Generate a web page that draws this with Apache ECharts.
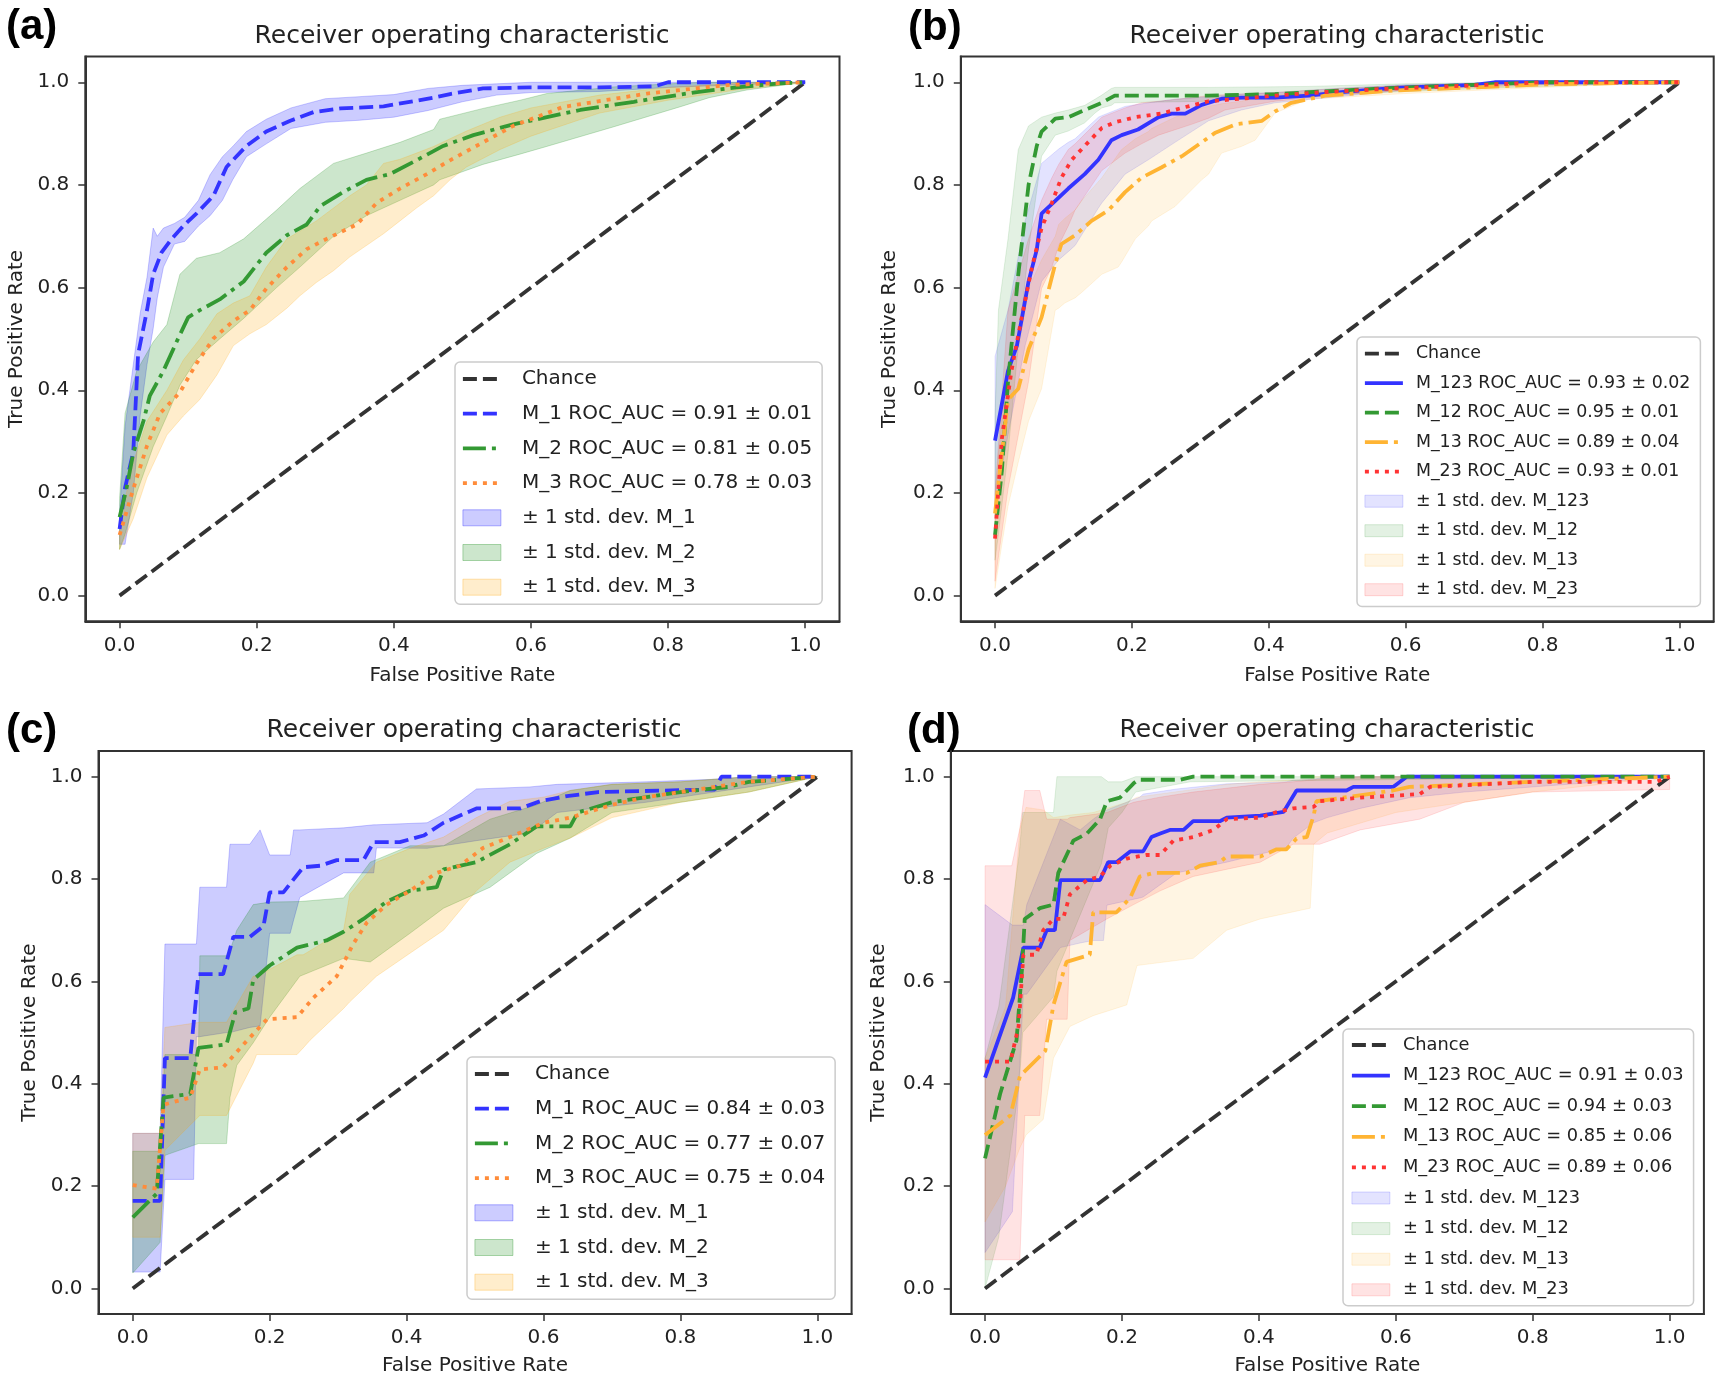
<!DOCTYPE html>
<html>
<head>
<meta charset="utf-8">
<title>ROC curves</title>
<script src="https://cdn.jsdelivr.net/npm/echarts@6/dist/echarts.min.js"></script>
<style>
  html, body { margin: 0; padding: 0; background: #fff; }
  #chart { width: 1720px; height: 1377px; }
</style>
</head>
<body>
<div id="chart"></div>
<script>
// ---- data ----
const tickValues = [0, 0.2, 0.4, 0.6, 0.8, 1.0];
const panelLabels = ['(a)', '(b)', '(c)', '(d)'];
const chanceX = [0, 1];
const chanceY = [0, 1];

// (a)
const aM1X = [0, 0.008, 0.02, 0.027, 0.04, 0.049, 0.061, 0.076, 0.095, 0.112, 0.137, 0.156, 0.185, 0.214, 0.249, 0.283, 0.322, 0.385, 0.458, 0.482, 0.53, 0.6, 0.7, 0.78, 0.8, 1.0];
const aM1Y = [0.13, 0.21, 0.28, 0.47, 0.556, 0.626, 0.668, 0.695, 0.723, 0.744, 0.779, 0.835, 0.876, 0.904, 0.925, 0.942, 0.949, 0.953, 0.97, 0.977, 0.988, 0.99, 0.99, 0.992, 1.0, 1.0];
const aB1X = [0, 0.008, 0.02, 0.03, 0.04, 0.049, 0.055, 0.064, 0.08, 0.095, 0.115, 0.132, 0.15, 0.165, 0.185, 0.214, 0.25, 0.3, 0.35, 0.4, 0.45, 0.5, 0.55, 0.6, 0.7, 0.8, 1.0];
const aB1Up = [0.16, 0.33, 0.45, 0.55, 0.62, 0.716, 0.70, 0.716, 0.725, 0.737, 0.77, 0.82, 0.855, 0.875, 0.904, 0.928, 0.95, 0.968, 0.972, 0.976, 0.988, 0.994, 0.997, 1.0, 1.0, 1.0, 1.0];
const aB1Lo = [0.10, 0.10, 0.2, 0.35, 0.45, 0.52, 0.58, 0.64, 0.685, 0.69, 0.72, 0.74, 0.77, 0.81, 0.855, 0.88, 0.91, 0.922, 0.926, 0.932, 0.945, 0.962, 0.975, 0.98, 0.982, 0.99, 1.0];

const aM2X = [0, 0.01, 0.02, 0.035, 0.044, 0.064, 0.083, 0.1, 0.117, 0.146, 0.181, 0.214, 0.244, 0.273, 0.292, 0.326, 0.36, 0.394, 0.433, 0.472, 0.516, 0.574, 0.672, 0.75, 0.842, 0.9, 0.963, 1.0];
const aM2Y = [0.153, 0.208, 0.278, 0.341, 0.389, 0.438, 0.494, 0.542, 0.556, 0.577, 0.612, 0.668, 0.702, 0.723, 0.758, 0.786, 0.81, 0.821, 0.848, 0.876, 0.897, 0.918, 0.946, 0.962, 0.981, 0.99, 0.998, 1.0];
const aB2X = [0, 0.008, 0.025, 0.049, 0.069, 0.088, 0.112, 0.146, 0.181, 0.229, 0.263, 0.312, 0.36, 0.409, 0.458, 0.467, 0.53, 0.584, 0.623, 0.72, 0.817, 0.86, 0.915, 1.0];
const aB2Up = [0.19, 0.355, 0.438, 0.494, 0.528, 0.626, 0.657, 0.668, 0.695, 0.751, 0.793, 0.842, 0.862, 0.883, 0.908, 0.928, 0.949, 0.965, 0.978, 0.991, 0.998, 1.0, 1.0, 1.0];
const aB2Lo = [0.09, 0.12, 0.2, 0.29, 0.35, 0.41, 0.46, 0.5, 0.54, 0.6, 0.64, 0.7, 0.74, 0.77, 0.8, 0.81, 0.84, 0.86, 0.875, 0.913, 0.952, 0.97, 0.985, 1.0];

const aM3X = [0, 0.02, 0.04, 0.059, 0.088, 0.112, 0.137, 0.166, 0.19, 0.214, 0.244, 0.273, 0.302, 0.346, 0.375, 0.409, 0.448, 0.482, 0.53, 0.574, 0.647, 0.769, 0.89, 1.0];
const aM3Y = [0.118, 0.208, 0.292, 0.355, 0.396, 0.452, 0.501, 0.535, 0.556, 0.598, 0.64, 0.675, 0.695, 0.723, 0.765, 0.793, 0.821, 0.848, 0.883, 0.915, 0.952, 0.978, 0.995, 1.0];
const aB3X = [0, 0.02, 0.04, 0.069, 0.093, 0.117, 0.142, 0.166, 0.19, 0.214, 0.244, 0.263, 0.287, 0.312, 0.336, 0.36, 0.385, 0.409, 0.433, 0.458, 0.482, 0.506, 0.555, 0.6, 0.7, 0.8, 0.9, 1.0];
const aB3Up = [0.14, 0.26, 0.34, 0.40, 0.459, 0.50, 0.549, 0.57, 0.584, 0.64, 0.695, 0.71, 0.73, 0.755, 0.779, 0.80, 0.842, 0.85, 0.862, 0.875, 0.89, 0.905, 0.932, 0.95, 0.975, 0.99, 0.998, 1.0];
const aB3Lo = [0.09, 0.15, 0.23, 0.313, 0.35, 0.382, 0.43, 0.487, 0.51, 0.528, 0.56, 0.584, 0.61, 0.633, 0.66, 0.682, 0.705, 0.73, 0.755, 0.779, 0.81, 0.835, 0.869, 0.895, 0.94, 0.965, 0.985, 1.0];

// (b)
const bM123X = [0, 0.019, 0.032, 0.049, 0.061, 0.068, 0.088, 0.107, 0.131, 0.151, 0.17, 0.185, 0.209, 0.239, 0.258, 0.278, 0.302, 0.331, 0.36, 0.409, 0.458, 0.506, 0.584, 0.7, 0.73, 0.8, 1.0];
const bM123Y = [0.302, 0.438, 0.487, 0.612, 0.674, 0.744, 0.769, 0.793, 0.821, 0.849, 0.887, 0.897, 0.908, 0.932, 0.939, 0.939, 0.956, 0.968, 0.97, 0.97, 0.974, 0.981, 0.989, 0.995, 1.0, 1.0, 1.0];
const bB123X = [0, 0.019, 0.044, 0.068, 0.093, 0.107, 0.117, 0.151, 0.156, 0.19, 0.224, 0.263, 0.312, 0.36, 0.409, 0.5, 0.6, 0.75, 1.0];
const bB123Up = [0.466, 0.556, 0.73, 0.842, 0.87, 0.883, 0.89, 0.932, 0.935, 0.953, 0.96, 0.967, 0.972, 0.977, 0.98, 0.988, 0.995, 1.0, 1.0];
const bB123Lo = [0.174, 0.313, 0.487, 0.612, 0.654, 0.67, 0.682, 0.755, 0.765, 0.821, 0.849, 0.883, 0.925, 0.946, 0.96, 0.972, 0.985, 0.995, 1.0];

const bM12X = [0, 0.01, 0.019, 0.034, 0.049, 0.061, 0.068, 0.088, 0.107, 0.131, 0.156, 0.175, 0.214, 0.312, 0.409, 0.506, 0.584, 0.7, 0.8, 1.0];
const bM12Y = [0.118, 0.243, 0.417, 0.626, 0.80, 0.876, 0.904, 0.929, 0.932, 0.946, 0.96, 0.974, 0.974, 0.974, 0.977, 0.984, 0.989, 0.995, 1.0, 1.0];
const bB12X = [0, 0.005, 0.019, 0.034, 0.049, 0.068, 0.088, 0.107, 0.131, 0.146, 0.156, 0.17, 0.175, 0.312, 0.458, 0.6, 0.75, 1.0];
const bB12Up = [0.35, 0.556, 0.695, 0.869, 0.915, 0.932, 0.94, 0.946, 0.955, 0.967, 0.975, 0.988, 0.99, 0.99, 0.992, 0.997, 1.0, 1.0];
const bB12Lo = [0.069, 0.12, 0.278, 0.487, 0.674, 0.856, 0.897, 0.905, 0.921, 0.94, 0.95, 0.955, 0.96, 0.963, 0.974, 0.982, 0.99, 1.0];

const bM13X = [0, 0.019, 0.034, 0.049, 0.068, 0.088, 0.097, 0.117, 0.141, 0.166, 0.19, 0.214, 0.243, 0.273, 0.302, 0.321, 0.351, 0.39, 0.409, 0.433, 0.482, 0.584, 0.7, 0.8, 1.0];
const bM13Y = [0.16, 0.382, 0.403, 0.48, 0.542, 0.646, 0.685, 0.702, 0.73, 0.751, 0.786, 0.814, 0.834, 0.856, 0.883, 0.901, 0.918, 0.925, 0.943, 0.96, 0.974, 0.984, 0.99, 0.996, 1.0];
const bB13X = [0, 0.01, 0.019, 0.034, 0.044, 0.049, 0.068, 0.088, 0.093, 0.102, 0.117, 0.127, 0.156, 0.18, 0.185, 0.205, 0.224, 0.229, 0.263, 0.302, 0.312, 0.331, 0.36, 0.38, 0.409, 0.458, 0.6, 0.8, 1.0];
const bB13Up = [0.2, 0.347, 0.42, 0.473, 0.56, 0.598, 0.654, 0.7, 0.723, 0.735, 0.751, 0.77, 0.814, 0.86, 0.869, 0.89, 0.904, 0.91, 0.932, 0.95, 0.953, 0.958, 0.963, 0.97, 0.974, 0.98, 0.99, 0.998, 1.0];
const bB13Lo = [0.014, 0.1, 0.174, 0.26, 0.313, 0.34, 0.403, 0.556, 0.56, 0.57, 0.58, 0.591, 0.626, 0.64, 0.65, 0.695, 0.72, 0.73, 0.758, 0.81, 0.821, 0.862, 0.875, 0.887, 0.94, 0.967, 0.978, 0.99, 1.0];

const bM23X = [0, 0.01, 0.024, 0.039, 0.054, 0.068, 0.083, 0.097, 0.112, 0.136, 0.156, 0.175, 0.205, 0.243, 0.273, 0.312, 0.36, 0.409, 0.482, 0.584, 0.7, 0.8, 1.0];
const bM23Y = [0.111, 0.306, 0.438, 0.542, 0.64, 0.716, 0.765, 0.814, 0.849, 0.883, 0.911, 0.922, 0.932, 0.939, 0.95, 0.963, 0.968, 0.974, 0.981, 0.988, 0.994, 1.0, 1.0];
const bB23X = [0, 0.019, 0.049, 0.068, 0.083, 0.093, 0.107, 0.117, 0.156, 0.19, 0.214, 0.239, 0.287, 0.312, 0.336, 0.409, 0.5, 0.6, 0.8, 1.0];
const bB23Up = [0.2, 0.556, 0.695, 0.77, 0.814, 0.84, 0.869, 0.88, 0.932, 0.95, 0.96, 0.963, 0.97, 0.974, 0.976, 0.98, 0.988, 0.994, 1.0, 1.0];
const bB23Lo = [0.028, 0.208, 0.417, 0.598, 0.64, 0.682, 0.72, 0.751, 0.828, 0.862, 0.88, 0.897, 0.918, 0.93, 0.946, 0.963, 0.975, 0.985, 0.995, 1.0];

// (c)
const cM1X = [0, 0.04, 0.047, 0.084, 0.096, 0.132, 0.147, 0.171, 0.191, 0.2, 0.22, 0.249, 0.274, 0.298, 0.337, 0.352, 0.39, 0.425, 0.454, 0.502, 0.566, 0.595, 0.634, 0.68, 0.85, 0.86, 1.0];
const cM1Y = [0.171, 0.171, 0.45, 0.45, 0.614, 0.614, 0.687, 0.687, 0.708, 0.774, 0.774, 0.823, 0.826, 0.837, 0.837, 0.872, 0.872, 0.885, 0.91, 0.938, 0.938, 0.952, 0.962, 0.97, 0.975, 1.0, 1.0];
const cB1X = [0, 0.04, 0.047, 0.089, 0.093, 0.098, 0.137, 0.142, 0.171, 0.186, 0.2, 0.23, 0.235, 0.244, 0.308, 0.352, 0.356, 0.43, 0.454, 0.502, 0.58, 0.62, 0.75, 0.85, 0.9, 1.0];
const cB1Up = [0.303, 0.303, 0.673, 0.673, 0.673, 0.784, 0.784, 0.868, 0.868, 0.896, 0.847, 0.847, 0.896, 0.896, 0.9, 0.906, 0.906, 0.91, 0.927, 0.976, 0.98, 0.985, 0.99, 0.995, 1.0, 1.0];
const cB1Lo = [0.032, 0.032, 0.213, 0.213, 0.492, 0.492, 0.5, 0.5, 0.51, 0.513, 0.694, 0.694, 0.72, 0.764, 0.812, 0.812, 0.861, 0.86, 0.865, 0.875, 0.89, 0.93, 0.95, 0.97, 0.98, 1.0];

const cM2X = [0, 0.035, 0.045, 0.084, 0.096, 0.137, 0.15, 0.169, 0.176, 0.2, 0.24, 0.283, 0.308, 0.337, 0.371, 0.405, 0.444, 0.454, 0.502, 0.551, 0.59, 0.639, 0.65, 0.7, 0.8, 0.87, 0.9, 1.0];
const cM2Y = [0.139, 0.185, 0.373, 0.38, 0.47, 0.477, 0.54, 0.547, 0.603, 0.631, 0.666, 0.68, 0.697, 0.722, 0.756, 0.777, 0.784, 0.819, 0.833, 0.868, 0.903, 0.903, 0.93, 0.95, 0.97, 0.98, 0.99, 1.0];
const cB2X = [0, 0.04, 0.047, 0.096, 0.098, 0.137, 0.142, 0.152, 0.176, 0.2, 0.244, 0.308, 0.347, 0.405, 0.454, 0.522, 0.59, 0.639, 0.7, 0.8, 0.9, 1.0];
const cB2Up = [0.268, 0.268, 0.457, 0.457, 0.65, 0.65, 0.66, 0.7, 0.75, 0.755, 0.756, 0.763, 0.833, 0.865, 0.865, 0.917, 0.945, 0.973, 0.985, 0.99, 1.0, 1.0];
const cB2Lo = [0.03, 0.09, 0.26, 0.283, 0.283, 0.283, 0.373, 0.436, 0.48, 0.53, 0.61, 0.645, 0.638, 0.694, 0.743, 0.784, 0.85, 0.88, 0.93, 0.95, 0.97, 1.0];

const cM3X = [0, 0.035, 0.045, 0.084, 0.098, 0.132, 0.162, 0.196, 0.24, 0.264, 0.298, 0.322, 0.342, 0.371, 0.405, 0.444, 0.478, 0.512, 0.551, 0.6, 0.639, 0.7, 0.75, 0.8, 0.9, 1.0];
const cM3Y = [0.202, 0.195, 0.359, 0.373, 0.428, 0.432, 0.477, 0.526, 0.53, 0.568, 0.61, 0.673, 0.715, 0.75, 0.777, 0.812, 0.826, 0.861, 0.882, 0.91, 0.92, 0.945, 0.96, 0.97, 0.99, 1.0];
const cB3X = [0, 0.04, 0.047, 0.098, 0.137, 0.176, 0.181, 0.24, 0.249, 0.259, 0.308, 0.317, 0.356, 0.405, 0.454, 0.502, 0.551, 0.6, 0.639, 0.7, 0.8, 0.9, 1.0];
const cB3Up = [0.303, 0.303, 0.51, 0.52, 0.52, 0.61, 0.61, 0.652, 0.652, 0.66, 0.7, 0.77, 0.833, 0.86, 0.882, 0.92, 0.952, 0.96, 0.973, 0.985, 0.99, 1.0, 1.0];
const cB3Lo = [0.1, 0.1, 0.27, 0.338, 0.338, 0.44, 0.457, 0.457, 0.47, 0.485, 0.547, 0.56, 0.61, 0.655, 0.70, 0.777, 0.833, 0.86, 0.88, 0.92, 0.95, 0.97, 1.0];

// (d)
const dM123X = [0, 0.041, 0.056, 0.08, 0.09, 0.102, 0.11, 0.168, 0.18, 0.192, 0.212, 0.231, 0.243, 0.256, 0.27, 0.29, 0.304, 0.343, 0.353, 0.402, 0.436, 0.455, 0.528, 0.538, 0.596, 0.616, 1.0];
const dM123Y = [0.412, 0.568, 0.666, 0.666, 0.7, 0.7, 0.798, 0.798, 0.833, 0.833, 0.854, 0.854, 0.882, 0.889, 0.896, 0.896, 0.913, 0.913, 0.92, 0.924, 0.931, 0.973, 0.973, 0.98, 0.98, 1.0, 1.0];
const dB123X = [0, 0.04, 0.056, 0.061, 0.11, 0.139, 0.158, 0.173, 0.178, 0.226, 0.231, 0.28, 0.353, 0.44, 0.45, 0.48, 0.5, 0.548, 0.62, 0.7, 1.0];
const dB123Up = [0.75, 0.71, 0.71, 0.75, 0.917, 0.896, 0.917, 0.931, 0.935, 0.96, 0.966, 0.976, 0.986, 0.99, 0.993, 0.995, 1.0, 1.0, 1.0, 1.0, 1.0];
const dB123Lo = [0.07, 0.15, 0.575, 0.575, 0.666, 0.675, 0.68, 0.68, 0.749, 0.763, 0.765, 0.812, 0.833, 0.861, 0.88, 0.91, 0.92, 0.938, 0.959, 0.97, 1.0];

const dM12X = [0, 0.022, 0.046, 0.054, 0.058, 0.08, 0.1, 0.107, 0.129, 0.149, 0.168, 0.178, 0.197, 0.217, 0.224, 0.285, 0.304, 1.0];
const dM12Y = [0.254, 0.38, 0.485, 0.624, 0.722, 0.743, 0.75, 0.812, 0.875, 0.889, 0.917, 0.952, 0.959, 0.987, 0.994, 0.994, 1.0, 1.0];
const dB12X = [0, 0.02, 0.05, 0.055, 0.1, 0.105, 0.17, 0.18, 0.2, 0.22, 0.3, 1.0];
const dB12Up = [0.45, 0.55, 0.85, 0.93, 0.93, 1.0, 1.0, 0.99, 0.99, 1.0, 1.0, 1.0];
const dB12Lo = [0.0, 0.1, 0.4, 0.5, 0.57, 0.62, 0.83, 0.9, 0.93, 0.97, 0.99, 1.0];

const dM13X = [0, 0.037, 0.051, 0.088, 0.1, 0.119, 0.153, 0.158, 0.192, 0.212, 0.226, 0.246, 0.295, 0.314, 0.343, 0.353, 0.402, 0.426, 0.44, 0.455, 0.47, 0.48, 0.484, 0.523, 0.596, 0.62, 0.8, 1.0];
const dM13Y = [0.3, 0.338, 0.415, 0.464, 0.554, 0.638, 0.652, 0.735, 0.735, 0.763, 0.805, 0.812, 0.812, 0.826, 0.833, 0.844, 0.844, 0.858, 0.858, 0.879, 0.882, 0.924, 0.952, 0.959, 0.973, 0.98, 0.99, 1.0];
const dB13X = [0, 0.03, 0.051, 0.06, 0.085, 0.1, 0.124, 0.158, 0.207, 0.222, 0.304, 0.353, 0.402, 0.475, 0.48, 0.5, 0.6, 0.7, 0.8, 1.0];
const dB13Up = [0.45, 0.55, 0.9, 0.94, 0.935, 0.92, 0.925, 0.93, 0.95, 0.96, 0.975, 0.985, 0.99, 0.995, 1.0, 1.0, 1.0, 1.0, 1.0, 1.0];
const dB13Lo = [0.13, 0.2, 0.275, 0.3, 0.33, 0.45, 0.512, 0.533, 0.554, 0.631, 0.645, 0.70, 0.722, 0.743, 0.868, 0.89, 0.93, 0.95, 0.97, 1.0];

const dM23X = [0, 0.037, 0.049, 0.056, 0.075, 0.085, 0.1, 0.114, 0.124, 0.149, 0.168, 0.183, 0.207, 0.236, 0.256, 0.275, 0.304, 0.334, 0.353, 0.402, 0.426, 0.45, 0.48, 0.489, 0.548, 0.635, 0.65, 0.8, 0.98, 1.0];
const dM23Y = [0.443, 0.443, 0.512, 0.652, 0.652, 0.7, 0.722, 0.722, 0.77, 0.798, 0.805, 0.826, 0.84, 0.847, 0.847, 0.875, 0.882, 0.896, 0.917, 0.92, 0.931, 0.938, 0.941, 0.952, 0.959, 0.966, 0.98, 0.99, 0.99, 1.0];
const dB23X = [0, 0.039, 0.051, 0.058, 0.08, 0.09, 0.12, 0.124, 0.178, 0.217, 0.256, 0.304, 0.402, 0.45, 0.489, 0.548, 0.635, 0.7, 0.75, 0.8, 1.0];
const dB23Up = [0.826, 0.826, 0.9, 0.973, 0.973, 0.917, 0.917, 0.92, 0.93, 0.95, 0.96, 0.97, 0.985, 0.99, 0.995, 1.0, 1.0, 1.0, 1.0, 1.0, 1.0];
const dB23Lo = [0.056, 0.056, 0.056, 0.338, 0.338, 0.526, 0.526, 0.68, 0.722, 0.75, 0.777, 0.805, 0.833, 0.868, 0.868, 0.896, 0.917, 0.95, 0.96, 0.97, 0.975];

// ---- styles ----
const FONT = 'DejaVu Sans';
const TEXT = '#222';
const AXIS = '#333';
const LW = 3.8;
const DASH = [14, 6];
const DASHDOT = [23, 6, 4, 6];
const DOT = [4, 6];

const C_BLUE = '#3333ff';
const C_GREEN = '#339933';
const C_ORANGE = '#ff8c3a';
const C_ORANGE2 = '#ffb433';
const C_RED = '#ff3333';

const grids = [
  { left: 85.3, top: 56.6, width: 754.2, height: 564.7 },
  { left: 960.8, top: 56.6, width: 752.9, height: 564.7 },
  { left: 98.5, top: 751.1, width: 753.1, height: 563.5 },
  { left: 950.8, top: 751.1, width: 753.1, height: 563.5 }
];

const zip = (xs, ys) => xs.map((x, i) => [x, ys[i]]);

function meanLine(g, name, xs, ys, color, dash) {
  return {
    type: 'line', name, xAxisIndex: g, yAxisIndex: g,
    data: zip(xs, ys), symbol: 'none', silent: true, z: 3,
    lineStyle: { color, width: LW, type: dash, cap: 'butt' },
    itemStyle: { color }
  };
}

function band(g, name, xs, up, lo, fill) {
  return {
    type: 'custom', name, xAxisIndex: g, yAxisIndex: g, silent: true, z: 2,
    data: xs.map((x, i) => [x, up[i], lo[i]]),
    encode: { x: 0, y: [1, 2] },
    itemStyle: { color: fill },
    renderItem(params, api) {
      if (params.dataIndex !== 0) return null;
      const pts = [];
      for (let i = 0; i < xs.length; i++) pts.push(api.coord([xs[i], up[i]]));
      for (let i = xs.length - 1; i >= 0; i--) pts.push(api.coord([xs[i], lo[i]]));
      return { type: 'polygon', shape: { points: pts }, style: { fill, stroke: fill, lineWidth: 1 } };
    }
  };
}

function chance(g) {
  return meanLine(g, 'Chance', chanceX, chanceY, AXIS, DASH);
}

// band colours
const fa = a => ({
  blue: `rgba(0,0,255,${a})`, green: `rgba(0,128,0,${a})`,
  orange: `rgba(255,165,0,${a})`, red: `rgba(255,0,0,${a})`
});
const F1 = fa(0.2);
const F2 = fa(0.11);

const series = [
  // (a)
  chance(0),
  band(0, '± 1 std. dev. M_1', aB1X, aB1Up, aB1Lo, F1.blue),
  band(0, '± 1 std. dev. M_2', aB2X, aB2Up, aB2Lo, F1.green),
  band(0, '± 1 std. dev. M_3', aB3X, aB3Up, aB3Lo, F1.orange),
  meanLine(0, 'M_1 ROC_AUC = 0.91 ± 0.01', aM1X, aM1Y, C_BLUE, DASH),
  meanLine(0, 'M_2 ROC_AUC = 0.81 ± 0.05', aM2X, aM2Y, C_GREEN, DASHDOT),
  meanLine(0, 'M_3 ROC_AUC = 0.78 ± 0.03', aM3X, aM3Y, C_ORANGE, DOT),
  // (b)
  chance(1),
  band(1, '± 1 std. dev. M_123', bB123X, bB123Up, bB123Lo, F2.blue),
  band(1, '± 1 std. dev. M_12', bB12X, bB12Up, bB12Lo, F2.green),
  band(1, '± 1 std. dev. M_13', bB13X, bB13Up, bB13Lo, F2.orange),
  band(1, '± 1 std. dev. M_23', bB23X, bB23Up, bB23Lo, F2.red),
  meanLine(1, 'M_123 ROC_AUC = 0.93 ± 0.02', bM123X, bM123Y, C_BLUE, 'solid'),
  meanLine(1, 'M_12 ROC_AUC = 0.95 ± 0.01', bM12X, bM12Y, C_GREEN, DASH),
  meanLine(1, 'M_13 ROC_AUC = 0.89 ± 0.04', bM13X, bM13Y, C_ORANGE2, DASHDOT),
  meanLine(1, 'M_23 ROC_AUC = 0.93 ± 0.01', bM23X, bM23Y, C_RED, DOT),
  // (c)
  chance(2),
  band(2, '± 1 std. dev. M_1', cB1X, cB1Up, cB1Lo, F1.blue),
  band(2, '± 1 std. dev. M_2', cB2X, cB2Up, cB2Lo, F1.green),
  band(2, '± 1 std. dev. M_3', cB3X, cB3Up, cB3Lo, F1.orange),
  meanLine(2, 'M_1 ROC_AUC = 0.84 ± 0.03', cM1X, cM1Y, C_BLUE, DASH),
  meanLine(2, 'M_2 ROC_AUC = 0.77 ± 0.07', cM2X, cM2Y, C_GREEN, DASHDOT),
  meanLine(2, 'M_3 ROC_AUC = 0.75 ± 0.04', cM3X, cM3Y, C_ORANGE, DOT),
  // (d)
  chance(3),
  band(3, '± 1 std. dev. M_123', dB123X, dB123Up, dB123Lo, F2.blue),
  band(3, '± 1 std. dev. M_12', dB12X, dB12Up, dB12Lo, F2.green),
  band(3, '± 1 std. dev. M_13', dB13X, dB13Up, dB13Lo, F2.orange),
  band(3, '± 1 std. dev. M_23', dB23X, dB23Up, dB23Lo, F2.red),
  meanLine(3, 'M_123 ROC_AUC = 0.91 ± 0.03', dM123X, dM123Y, C_BLUE, 'solid'),
  meanLine(3, 'M_12 ROC_AUC = 0.94 ± 0.03', dM12X, dM12Y, C_GREEN, DASH),
  meanLine(3, 'M_13 ROC_AUC = 0.85 ± 0.06', dM13X, dM13Y, C_ORANGE2, DASHDOT),
  meanLine(3, 'M_23 ROC_AUC = 0.89 ± 0.06', dM23X, dM23Y, C_RED, DOT)
];

function xAxis(g, nameGap) {
  return {
    type: 'value', gridIndex: g, min: -0.05, max: 1.05,
    name: 'False Positive Rate', nameLocation: 'middle', nameGap,
    nameTextStyle: { fontFamily: FONT, fontSize: 20, color: TEXT, lineHeight: 20 },
    axisLine: { show: true, onZero: false, lineStyle: { color: AXIS, width: 2 } },
    axisTick: { show: true, length: 7, customValues: tickValues, lineStyle: { color: AXIS, width: 1.5 } },
    axisLabel: { customValues: tickValues, formatter: v => v.toFixed(1), margin: 14,
      fontFamily: FONT, fontSize: 20, color: TEXT },
    splitLine: { show: false }
  };
}
function yAxis(g, nameGap) {
  return {
    type: 'value', gridIndex: g, min: -0.05, max: 1.05,
    name: 'True Positive Rate', nameLocation: 'middle', nameGap,
    nameTextStyle: { fontFamily: FONT, fontSize: 20, color: TEXT, lineHeight: 20 },
    axisLine: { show: true, onZero: false, lineStyle: { color: AXIS, width: 2 } },
    axisTick: { show: true, length: 7, customValues: tickValues, lineStyle: { color: AXIS, width: 1.5 } },
    axisLabel: { customValues: tickValues, formatter: v => v.toFixed(1), margin: 16,
      fontFamily: FONT, fontSize: 20, color: TEXT },
    splitLine: { show: false }
  };
}

function bandItem(name, fill, edge) {
  return { name, icon: 'rect', itemStyle: { opacity: 1, color: fill, borderColor: edge, borderWidth: 1 } };
}

function legend(pos, fontSize, itemGap, itemHeight, textPad, names) {
  return Object.assign({
    orient: 'vertical', selectedMode: false, itemWidth: 38, itemHeight, itemGap,
    backgroundColor: 'rgba(255,255,255,0.8)', borderColor: '#cccccc', borderWidth: 1.5, borderRadius: 5,
    textStyle: { fontFamily: FONT, fontSize, lineHeight: fontSize, color: TEXT, padding: [0, 0, 0, textPad] },
    itemStyle: { opacity: 0 },
    lineStyle: { width: LW },
    data: names
  }, pos);
}

const legends = [
  legend({ left: 455, top: 362, padding: [7, 10, 7, 6] }, 20, 14.7, 16, 16, [
    'Chance', 'M_1 ROC_AUC = 0.91 ± 0.01', 'M_2 ROC_AUC = 0.81 ± 0.05', 'M_3 ROC_AUC = 0.78 ± 0.03',
    bandItem('± 1 std. dev. M_1', F1.blue, 'rgba(0,0,255,0.3)'),
    bandItem('± 1 std. dev. M_2', F1.green, 'rgba(0,128,0,0.3)'),
    bandItem('± 1 std. dev. M_3', F1.orange, 'rgba(255,165,0,0.3)')
  ]),
  legend({ left: 1357, top: 337, padding: [8, 10, 8, 6] }, 17.4, 12.1, 12, 8, [
    'Chance', 'M_123 ROC_AUC = 0.93 ± 0.02', 'M_12 ROC_AUC = 0.95 ± 0.01', 'M_13 ROC_AUC = 0.89 ± 0.04', 'M_23 ROC_AUC = 0.93 ± 0.01',
    bandItem('± 1 std. dev. M_123', F2.blue, 'rgba(0,0,255,0.15)'),
    bandItem('± 1 std. dev. M_12', F2.green, 'rgba(0,128,0,0.15)'),
    bandItem('± 1 std. dev. M_13', F2.orange, 'rgba(255,165,0,0.15)'),
    bandItem('± 1 std. dev. M_23', F2.red, 'rgba(255,0,0,0.15)')
  ]),
  legend({ left: 467, top: 1057, padding: [7, 10, 7, 6] }, 20, 14.7, 16, 17, [
    'Chance', 'M_1 ROC_AUC = 0.84 ± 0.03', 'M_2 ROC_AUC = 0.77 ± 0.07', 'M_3 ROC_AUC = 0.75 ± 0.04',
    bandItem('± 1 std. dev. M_1', F1.blue, 'rgba(0,0,255,0.3)'),
    bandItem('± 1 std. dev. M_2', F1.green, 'rgba(0,128,0,0.3)'),
    bandItem('± 1 std. dev. M_3', F1.orange, 'rgba(255,165,0,0.3)')
  ]),
  legend({ left: 1343, top: 1029, padding: [7, 10, 7, 7] }, 17.8, 12.6, 12, 8, [
    'Chance', 'M_123 ROC_AUC = 0.91 ± 0.03', 'M_12 ROC_AUC = 0.94 ± 0.03', 'M_13 ROC_AUC = 0.85 ± 0.06', 'M_23 ROC_AUC = 0.89 ± 0.06',
    bandItem('± 1 std. dev. M_123', F2.blue, 'rgba(0,0,255,0.15)'),
    bandItem('± 1 std. dev. M_12', F2.green, 'rgba(0,128,0,0.15)'),
    bandItem('± 1 std. dev. M_13', F2.orange, 'rgba(255,165,0,0.15)'),
    bandItem('± 1 std. dev. M_23', F2.red, 'rgba(255,0,0,0.15)')
  ])
];

// titles and panel letters
const titlePos = [[462, 36], [1337, 36], [474, 730], [1327, 730]];
const letterPos = [[6, 27], [908, 28], [6, 731], [907, 731]];
const graphics = [];
titlePos.forEach(([x, y]) => graphics.push({
  type: 'text', x, y, silent: true,
  style: { text: 'Receiver operating characteristic', fontFamily: FONT, fontSize: 25,
    fill: TEXT, align: 'center', verticalAlign: 'middle' }
}));
letterPos.forEach(([x, y], i) => graphics.push({
  type: 'text', x, y, silent: true,
  style: { text: panelLabels[i], fontFamily: 'Liberation Sans', fontSize: 42, fontWeight: 'bold',
    fill: '#000', align: 'left', verticalAlign: 'middle' }
}));

const chart = echarts.init(document.getElementById('chart'), null, { renderer: 'canvas' });
chart.setOption({
  animation: false,
  backgroundColor: '#fff',
  grid: grids.map(g => Object.assign({ show: true, borderColor: AXIS, borderWidth: 2, backgroundColor: 'transparent' }, g)),
  xAxis: [xAxis(0, 44), xAxis(1, 44), xAxis(2, 42), xAxis(3, 42)],
  yAxis: [yAxis(0, 59), yAxis(1, 61), yAxis(2, 59), yAxis(3, 62)],
  legend: legends,
  graphic: graphics,
  series
});
window.addEventListener('resize', () => chart.resize());
</script>
</body>
</html>
